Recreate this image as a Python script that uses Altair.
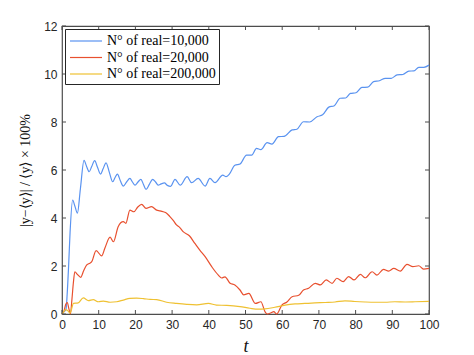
import altair as alt
import pandas as pd

series_names = ["N° of real=10,000", "N° of real=20,000", "N° of real=200,000"]
series_colors = ["#5a93f0", "#e8502f", "#efc132"]

blue_t = [0, 0.6, 1.1, 1.4, 1.8, 2.2, 2.9, 3.5, 4.2, 5.0, 6.0, 6.7, 7.4, 8.1, 8.9, 9.7, 10.5, 11.2, 12.0,
          12.9, 13.8, 14.5, 15.1, 15.9, 16.7, 17.6, 18.5, 19.2, 19.9, 20.7, 21.5, 22.2, 22.9, 23.8, 24.7,
          25.5, 26.2, 27.0, 27.9, 28.7, 29.6, 30.8, 32.2, 34.1, 35.3, 37.1, 39.0, 40.3, 41.7, 43.8, 44.7,
          45.6, 47.1, 48.5, 50.3, 51.7, 53.0, 54.2, 55.9, 57.2, 59.0, 60.5, 62.7, 64.0, 65.8, 67.5, 69.5,
          71.0, 72.7, 74.2, 75.8, 77.3, 78.6, 80.1, 81.7, 83.3, 84.9, 86.5, 88.1, 89.7, 91.3, 92.9, 94.5,
          95.9, 97.2, 98.6, 100]
blue_v = [0, 0.1, 0.2, 0.8, 2.0, 3.4, 4.75, 4.5, 4.2, 5.2, 6.4, 6.15, 5.93, 6.15, 6.39, 6.1, 5.83, 6.05, 6.3,
          5.9, 5.51, 5.7, 5.83, 5.55, 5.33, 5.5, 5.65, 5.5, 5.37, 5.5, 5.61, 5.4, 5.19, 5.4, 5.61,
          5.5, 5.37, 5.42, 5.46, 5.36, 5.32, 5.61, 5.37, 5.72, 5.47, 5.65, 5.33, 5.65, 5.47, 5.79, 5.72,
          5.83, 6.2, 6.25, 6.62, 6.62, 6.9, 6.85, 7.14, 7.08, 7.39, 7.4, 7.67, 7.7, 8.01, 8.0, 8.22,
          8.3, 8.62, 8.68, 8.99, 9.0, 9.19, 9.22, 9.44, 9.45, 9.68, 9.72, 9.82, 9.82, 9.96, 9.98, 10.12,
          10.13, 10.28, 10.28, 10.37]

red_t = [0, 0.6, 1.0, 1.45, 1.9, 2.3, 2.7, 3.1, 3.5, 4.2, 5.1, 5.9, 6.7, 7.4, 8.1, 9.3, 10.8, 11.7, 13.1,
         14.0, 15.3, 16.0, 16.7, 17.4, 18.5, 19.6, 20.6, 21.7, 22.9, 24.4, 25.8, 26.7, 27.6, 28.5, 29.4,
         30.3, 31.2, 32.1, 33.0, 34.7, 36.2, 37.6, 39.0, 40.8, 42.6, 43.5, 44.4, 45.8, 47.1, 48.5, 49.5,
         50.9, 52.7, 54.2, 55.3, 55.9, 57.0, 57.7, 58.5, 59.9, 61.3, 62.7, 64.5, 65.8, 67.2, 69.0, 70.4,
         72.0, 73.6, 74.9, 76.6, 78.1, 79.6, 81.3, 82.6, 84.5, 85.8, 87.6, 89.0, 90.4, 92.2, 94.0, 95.6,
         97.2, 98.5, 100]
red_v = [0, 0.15, 0.4, 0.48, 0.2, 0.0, 0.6, 1.3, 1.76, 1.65, 1.53, 1.8, 2.04, 2.1, 2.18, 2.64, 2.42, 2.75, 3.2,
         3.01, 3.64, 3.8, 3.85, 3.78, 4.33, 4.26, 4.45, 4.57, 4.40, 4.47, 4.33, 4.3, 4.26, 4.2, 4.06,
         3.9, 3.71, 3.6, 3.43, 3.26, 2.94, 2.65, 2.39, 1.97, 1.62, 1.5, 1.55, 1.28, 1.21, 1.0, 0.8,
         0.86, 0.44, 0.51, 0.1, 0.0, 0.05, 0.1, 0.0, 0.37, 0.5, 0.72, 0.78, 1.0, 1.07, 1.28, 1.21,
         1.42, 1.28, 1.49, 1.35, 1.56, 1.42, 1.65, 1.51, 1.76, 1.62, 1.86, 1.79, 1.9, 1.79, 2.07, 1.97,
         2.01, 1.87, 1.9]

yellow_t = [0, 0.5, 1.0, 1.5, 2.2, 2.6, 3.1, 4.4, 5.8, 7.2, 8.5, 9.9, 11.3, 13.1, 14.9, 16.7, 18.5, 20.3,
            22.2, 24.0, 25.8, 28.5, 31.2, 34.0, 36.7, 39.9, 42.1, 44.9, 48.5, 51.2, 53.5, 55.3, 58.0, 60.8,
            63.5, 66.2, 68.9, 71.7, 74.4, 77.1, 79.8, 82.6, 85.3, 88.0, 90.7, 93.5, 96.2, 100]
yellow_v = [0, 0.1, 0.18, 0.15, 0.05, 0.2, 0.44, 0.46, 0.67, 0.56, 0.6, 0.51, 0.54, 0.49, 0.51, 0.58, 0.65, 0.66,
            0.64, 0.61, 0.6, 0.49, 0.44, 0.4, 0.38, 0.44, 0.37, 0.36, 0.31, 0.24, 0.2, 0.21, 0.28, 0.37,
            0.42, 0.44, 0.46, 0.48, 0.5, 0.55, 0.52, 0.5, 0.49, 0.49, 0.51, 0.5, 0.51, 0.53]

x_ticks = [0, 10, 20, 30, 40, 50, 60, 70, 80, 90, 100]
y_ticks = [0, 2, 4, 6, 8, 10, 12]

rows = []
for name, ts, vs in zip(series_names, [blue_t, red_t, yellow_t], [blue_v, red_v, yellow_v]):
    for t, v in zip(ts, vs):
        rows.append({"t": t, "v": v, "series": name})
df = pd.DataFrame(rows)
xt = pd.DataFrame({"t": x_ticks})
yt = pd.DataFrame({"v": y_ticks})

W, H = 367, 288
TICK = 4
AXIS_COLOR = "#4d4d4d"

xscale = alt.Scale(domain=[0, 100], nice=False, zero=False)
yscale = alt.Scale(domain=[0, 12], nice=False)

xaxis = alt.Axis(values=x_ticks, title="t", ticks=False, domain=False, grid=False,
                 labelOverlap=False, labelFlush=False,
                 labelFont="Liberation Sans", labelFontSize=12, labelColor="#262626",
                 labelPadding=5, titleFont="Liberation Serif", titleFontStyle="italic",
                 titleFontWeight="normal", titleFontSize=18, titleColor="#111",
                 titleY=32, titleBaseline="middle")
yaxis = alt.Axis(values=y_ticks, title="|y−⟨y⟩| / ⟨y⟩  × 100%", ticks=False, domain=False,
                 grid=False, labelOverlap=False, labelFlush=False,
                 labelFont="Liberation Sans", labelFontSize=12,
                 labelColor="#262626", labelPadding=5, titleFont="Liberation Serif",
                 titleFontWeight="normal", titleFontSize=14, titleColor="#111",
                 titleX=-37, titleY=H / 2, titleAngle=-90, titleAlign="center",
                 titleBaseline="middle")

lines = alt.Chart(df).mark_line(strokeWidth=1.2, interpolate="monotone").encode(
    x=alt.X("t:Q", scale=xscale, axis=xaxis),
    y=alt.Y("v:Q", scale=yscale, axis=yaxis),
    color=alt.Color("series:N", sort=series_names,
                    scale=alt.Scale(domain=series_names, range=series_colors),
                    legend=alt.Legend(title=None, orient="none", legendX=3, legendY=3,
                                      symbolType="M-2,0L2,0", symbolSize=256, symbolOffset=9,
                                      symbolStrokeWidth=1.2, labelOffset=12, padding=3,
                                      rowPadding=0.5, strokeColor="#262626", fillColor="white",
                                      labelFont="Liberation Serif", labelFontSize=14,
                                      labelColor="black", cornerRadius=0)),
)

xticks_bottom = alt.Chart(xt).mark_rule(color=AXIS_COLOR, strokeWidth=1).encode(
    x=alt.X("t:Q", scale=xscale, axis=xaxis), y=alt.value(H - TICK), y2=alt.value(H))
xticks_top = alt.Chart(xt).mark_rule(color=AXIS_COLOR, strokeWidth=1).encode(
    x=alt.X("t:Q", scale=xscale, axis=xaxis), y=alt.value(0), y2=alt.value(TICK))
yticks_left = alt.Chart(yt).mark_rule(color=AXIS_COLOR, strokeWidth=1).encode(
    y=alt.Y("v:Q", scale=yscale, axis=yaxis), x=alt.value(0), x2=alt.value(TICK))
yticks_right = alt.Chart(yt).mark_rule(color=AXIS_COLOR, strokeWidth=1).encode(
    y=alt.Y("v:Q", scale=yscale, axis=yaxis), x=alt.value(W - TICK), x2=alt.value(W))

chart = alt.layer(lines, xticks_bottom, xticks_top, yticks_left, yticks_right).properties(
    width=W, height=H,
    autosize=alt.AutoSizeParams(type="none"),
    padding={"left": 62, "top": 26, "right": 45, "bottom": 41},
    background="white",
).configure_view(stroke=AXIS_COLOR, strokeWidth=1.2)

chart.save("out.html", embed_options={"renderer": "svg", "actions": False})
